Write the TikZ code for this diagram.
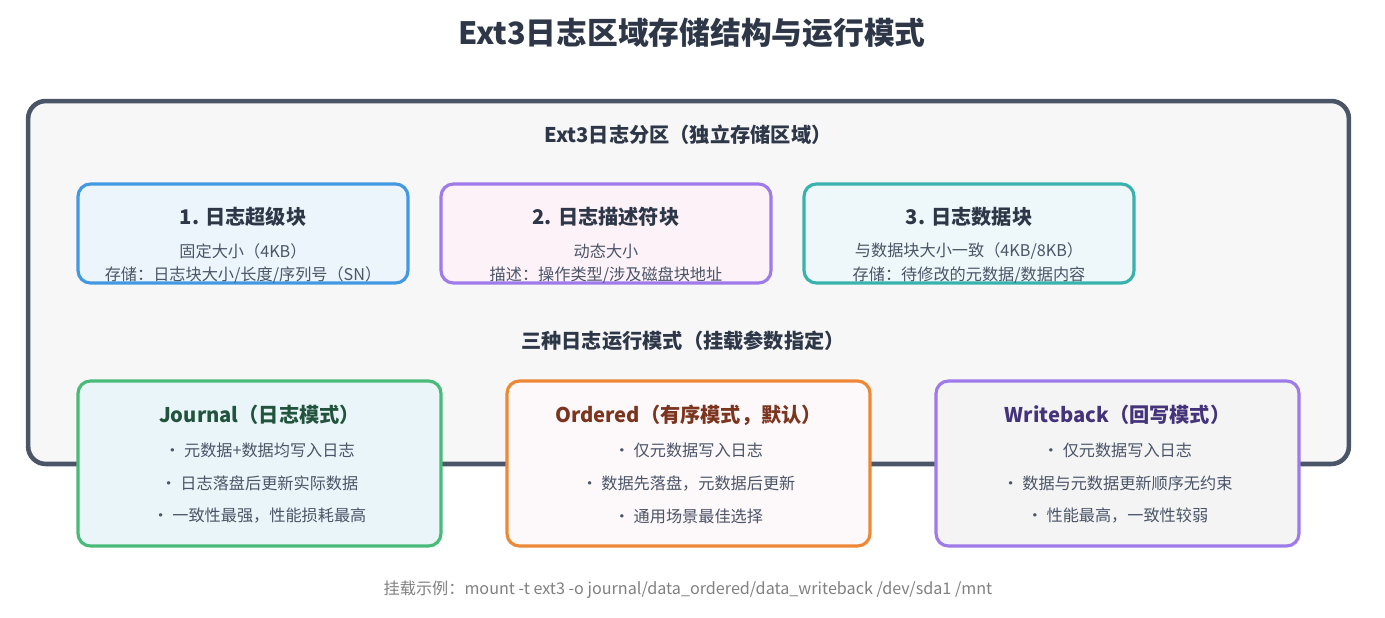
\documentclass[tikz,border=0pt]{standalone}
\usepackage{fontspec}
\setmainfont{Noto Sans CJK SC}
\usepackage{tikz}
\definecolor{ink}{HTML}{2D3748}
\definecolor{txt}{HTML}{4A5568}
\definecolor{frame}{HTML}{4A5568}
\definecolor{bluel}{HTML}{4299E1}\definecolor{bluef}{HTML}{EBF5FB}
\definecolor{purl}{HTML}{9F7AEA}\definecolor{purf}{HTML}{FDF2F8}
\definecolor{teall}{HTML}{38B2AC}\definecolor{tealf}{HTML}{EEF7F9}
\definecolor{greenl}{HTML}{48BB78}\definecolor{greenf}{HTML}{EAF5F9}
\definecolor{orangel}{HTML}{ED8936}\definecolor{orangef}{HTML}{FDF8FA}
\definecolor{greyf}{HTML}{F4F4F4}
\definecolor{greent}{HTML}{22543D}\definecolor{oranget}{HTML}{7B341E}\definecolor{purt}{HTML}{44337A}
\tikzset{
  blk/.style={draw, line width=1.8pt, rounded corners=7pt, minimum width=6.6cm, minimum height=1.98cm},
  mode/.style={draw, line width=1.8pt, rounded corners=7pt, minimum width=7.26cm, minimum height=3.3cm},
  head/.style={font=\bfseries\fontsize{11.5}{13}\selectfont, text=ink},
  line/.style={font=\fontsize{9.2}{11}\selectfont, text=txt}
}
\begin{document}
\begin{tikzpicture}[x=0.02cm, y=-0.02cm]
  \useasboundingbox (0,0) rectangle (1385,618);
  \node[font=\bfseries\fontsize{17.5}{20}\selectfont, text=ink] (title) at (692,33) {Ext3日志区域存储结构与运行模式};
  % journal area
  \node[draw=frame, fill=black!3, line width=2.6pt, rounded corners=10pt, minimum width=26.42cm, minimum height=7.26cm] (area) at (688.5,282.5) {};
  \node[head] (areahd) at (688,135) {Ext3日志分区（独立存储区域）};
  \node[blk, draw=bluel, fill=bluef] (sb) at (243,233.5) {};
  \node[blk, draw=purl, fill=purf] (desc) at (606,233.5) {};
  \node[blk, draw=teall, fill=tealf] (data) at (969,233.5) {};
  \node[head] at (243,217) {1. 日志超级块};
  \node[line] at (243,251) {固定大小（4KB）};
  \node[line] at (243,275) {存储：日志块大小/长度/序列号（SN）};
  \node[head] at (606,217) {2. 日志描述符块};
  \node[line] at (606,251) {动态大小};
  \node[line] at (606,275) {描述：操作类型/涉及磁盘块地址};
  \node[head] at (969,217) {3. 日志数据块};
  \node[line] at (969,251) {与数据块大小一致（4KB/8KB）};
  \node[line] at (969,275) {存储：待修改的元数据/数据内容};
  \node[head] (modehd) at (683,341) {三种日志运行模式（挂载参数指定）};
  % modes
  \node[mode, draw=greenl, fill=greenf] (journal) at (259.5,463.5) {};
  \node[mode, draw=orangel, fill=orangef] (ordered) at (688.5,463.5) {};
  \node[mode, draw=purl, fill=greyf] (writeback) at (1117.5,463.5) {};
  \node[head, text=greent] at (259.5,415) {Journal（日志模式）};
  \node[line] at (259.5,450) {• 元数据+数据均写入日志};
  \node[line] at (259.5,483) {• 日志落盘后更新实际数据};
  \node[line] at (259.5,516) {• 一致性最强，性能损耗最高};
  \node[head, text=oranget] at (688.5,415) {Ordered（有序模式，默认）};
  \node[line] at (688.5,450) {• 仅元数据写入日志};
  \node[line] at (688.5,483) {• 数据先落盘，元数据后更新};
  \node[line] at (688.5,516) {• 通用场景最佳选择};
  \node[head, text=purt] at (1117.5,415) {Writeback（回写模式）};
  \node[line] at (1117.5,450) {• 仅元数据写入日志};
  \node[line] at (1117.5,483) {• 数据与元数据更新顺序无约束};
  \node[line] at (1117.5,516) {• 性能最高，一致性较弱};
  \node[line, text=black!50] (foot) at (688,590) {挂载示例：mount -t ext3 -o journal/data\_ordered/data\_writeback /dev/sda1 /mnt};
\end{tikzpicture}
\end{document}
